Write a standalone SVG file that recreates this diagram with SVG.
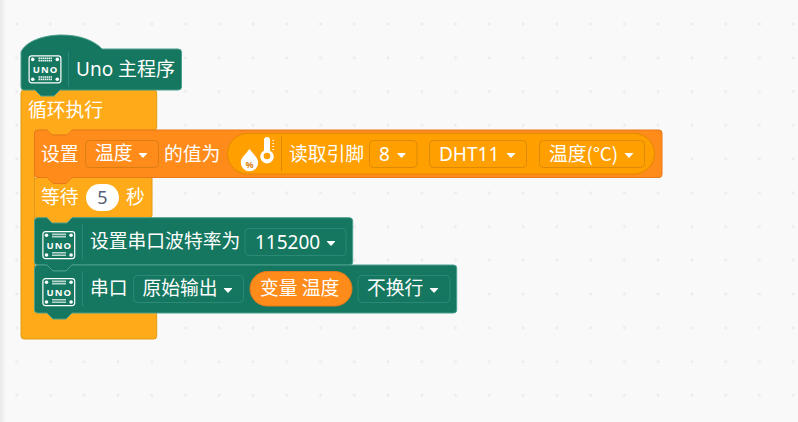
<svg xmlns="http://www.w3.org/2000/svg" width="798" height="422" viewBox="0 0 798 422">
<defs>
<linearGradient id="shade" x1="0" x2="1" y1="0" y2="0"><stop offset="0" stop-color="#e9e9e9"/><stop offset="1" stop-color="#f9f9f9"/></linearGradient>
<pattern id="grid" x="16.7" y="24" width="33.76" height="33.76" patternUnits="userSpaceOnUse"><path d="M0 -1.5V1.5M-1.5 0H1.5M33.76 -1.5V1.5M32.26 0H35.26M0 32.26V35.26M-1.5 33.76H1.5M33.76 32.26V35.26M32.26 33.76H35.26" stroke="#e6e6e6" stroke-width="1" fill="none"/></pattern>
<g id="board">
<rect x="0.6" y="0.6" width="31.800" height="27" rx="2.500" fill="none" stroke="#fff" stroke-width="1.200"/>
<circle cx="4.200" cy="4.200" r="1.800" fill="#fff"/><circle cx="28.800" cy="4.200" r="1.800" fill="#fff"/><circle cx="4.200" cy="24" r="1.800" fill="#fff"/><circle cx="28.800" cy="24" r="1.800" fill="#fff"/>
<path d="M10 3.200H24M10 5.600H24M10 21.800H24M10 24.200H24" stroke="#fff" stroke-width="1.600" stroke-dasharray="1.400 .6" fill="none"/>
</g>
<path id="caret" d="M0 0H8Q8.500 0 8.200 .4L4.500 4.400Q4 4.900 3.500 4.400L-.2 .4Q-.5 0 0 0Z" fill="#fff"/>
</defs>
<style>
text{font-family:"Noto Sans CJK SC","Noto Sans",sans-serif;font-size:18.800px;fill:#fff}
.l{font-family:"Noto Sans",sans-serif;font-size:19px}
.u{font-family:"Noto Sans",sans-serif;font-size:9.500px;font-weight:700;letter-spacing:1.100px}
.g{fill:#15775f;stroke:#4b9f8d;stroke-width:1}
.o{fill:#ff8b1a;stroke:#e8791a;stroke-width:1}
.a{fill:#ffab19;stroke:#e39a16;stroke-width:1}
.do{fill:none;stroke:#dc7d14;stroke-width:1}
.da{fill:none;stroke:#dc8a08;stroke-width:1}
.dg{fill:none;stroke:#2a8a75;stroke-width:1}
.sep{stroke:#2a8a75;stroke-width:1}
</style>
<rect width="798" height="422" fill="#f9f9f9"/>
<rect width="798" height="422" fill="url(#grid)"/>
<rect width="6" height="422" fill="url(#shade)"/>

<g id="loop">
<path class="a" d="M24 90H154Q156.700 90 156.700 93V127Q156.700 130 154 130H72L67 135H52L47 130H38Q34.500 130 34.500 133V309Q34.500 312 38 312H47L52 318H67L72 312H154Q156.700 312 156.700 315V336Q156.700 339 154 339H24Q21 339 21 336V93Q21 90 24 90Z"/>
<text x="28" y="117">循环执行</text>
</g>

<g id="main">
<path class="g" d="M21 52C26 41 44 35 62 35C80 35 95 41 102 49H178Q181.500 49 181.500 52V87Q181.500 90 178 90H60L54 96H41L35 90H24Q21 90 21 87Z"/>
<use href="#board" x="28.500" y="55.200"/>
<text x="45.500" y="72.800" text-anchor="middle" class="u">UNO</text>
<line class="sep" x1="68.500" y1="52" x2="68.500" y2="87"/>
<text x="76" y="76" style="font-family:'Noto Sans','Noto Sans CJK SC',sans-serif;font-size:19px">Uno 主程序</text>
</g>

<g id="wait">
<path class="a" d="M38 177.500H152V215Q152 218 149 218H72L67 224H52L47 218H38Q34.500 218 34.500 215V181Q34.500 177.500 38 177.500Z"/>
<text x="41" y="204">等待</text>
<rect x="86" y="184" width="33" height="27" rx="13.500" fill="#fff"/>
<text x="102.500" y="204" text-anchor="middle" style="fill:#575e75;font-size:18px;font-family:'Noto Sans',sans-serif">5</text>
<text x="126" y="204">秒</text>
</g>

<g id="set">
<path class="o" d="M38 130H47L52 135H67L72 130H659Q662 130 662 133V174.500Q662 177.500 659 177.500H72L66 183.500H53L47 177.500H38Q34.500 177.500 34.500 174.500V133Q34.500 130 38 130Z"/>
<text x="41" y="161">设置</text>
<rect class="do" x="85.500" y="140.500" width="73" height="27" rx="4"/>
<text x="95" y="160">温度</text>
<use href="#caret" x="139" y="153"/>
<text x="164" y="161">的值为</text>
<rect x="227.500" y="133.500" width="427" height="40.500" rx="20.250" fill="#ff9f00" stroke="#e08a00"/>
<path d="M249.500 149C245 155 240.800 158 240.800 162.500A8.700 8.700 0 0 0 258.200 162.500C258.200 158 254 155 249.500 149Z" fill="#fff"/>
<text x="249.500" y="167.500" text-anchor="middle" style="fill:#d9830a;font-size:9px;font-weight:700;font-family:'Noto Sans',sans-serif">%</text>
<path d="M264 140A3 3 0 0 1 270 140V150.500A6.800 6.800 0 1 1 264 150.500Z" fill="#fff"/>
<circle cx="267" cy="156" r="3.300" fill="#ff9f00"/>
<path d="M272.500 140.500H274M272.500 143.500H274M272.500 146.500H274M272.500 149.500H274" stroke="#fff" stroke-width="1"/>
<line x1="281.500" y1="136" x2="281.500" y2="171" stroke="#e08a00"/>
<text x="289" y="161">读取引脚</text>
<rect class="da" x="369.500" y="140.500" width="47.500" height="27" rx="4"/>
<text x="379" y="160.500" class="l">8</text>
<use href="#caret" x="397.500" y="153"/>
<rect class="da" x="429.500" y="140.500" width="97" height="27" rx="4"/>
<text x="439" y="160.500" class="l">DHT11</text>
<use href="#caret" x="507" y="153"/>
<rect class="da" x="539.500" y="140.500" width="105" height="27" rx="4"/>
<text x="549" y="160.500">温度(°C)</text>
<use href="#caret" x="625" y="153"/>
</g>

<g id="baud">
<path class="g" d="M38 217.700H47L52 223H67L72 217.700H349.500Q352.700 217.700 352.700 221V262Q352.700 265 349.500 265H72L66 271H53L47 265H38Q34.500 265 34.500 262V221Q34.500 217.700 38 217.700Z"/>
<use href="#board" x="42.300" y="231"/>
<text x="59.300" y="248.600" text-anchor="middle" class="u">UNO</text>
<line class="sep" x1="82.500" y1="224" x2="82.500" y2="259"/>
<text x="90" y="248">设置串口波特率为</text>
<rect class="dg" x="245" y="228.500" width="101" height="27" rx="4"/>
<text x="255" y="248.500" class="l">115200</text>
<use href="#caret" x="327" y="241"/>
</g>

<g id="serial">
<path class="g" d="M38 265H47L53 271H66L72 265H453.500Q456.700 265 456.700 268V310Q456.700 313 453.500 313H72L66 319H53L47 313H38Q34.500 313 34.500 310V268Q34.500 265 38 265Z"/>
<use href="#board" x="42.300" y="278"/>
<text x="59.300" y="295.600" text-anchor="middle" class="u">UNO</text>
<line class="sep" x1="82.500" y1="271" x2="82.500" y2="306"/>
<text x="90" y="295">串口</text>
<rect class="dg" x="133.500" y="275.500" width="110" height="27" rx="4"/>
<text x="142.500" y="295">原始输出</text>
<use href="#caret" x="224" y="288"/>
<rect x="250" y="271.500" width="102" height="34.500" rx="17.250" fill="#ff8b1a" stroke="#e8791a"/>
<text x="260" y="295">变量 温度</text>
<rect class="dg" x="358" y="275.500" width="92" height="27" rx="4"/>
<text x="367" y="295">不换行</text>
<use href="#caret" x="430" y="288"/>
</g>
</svg>
